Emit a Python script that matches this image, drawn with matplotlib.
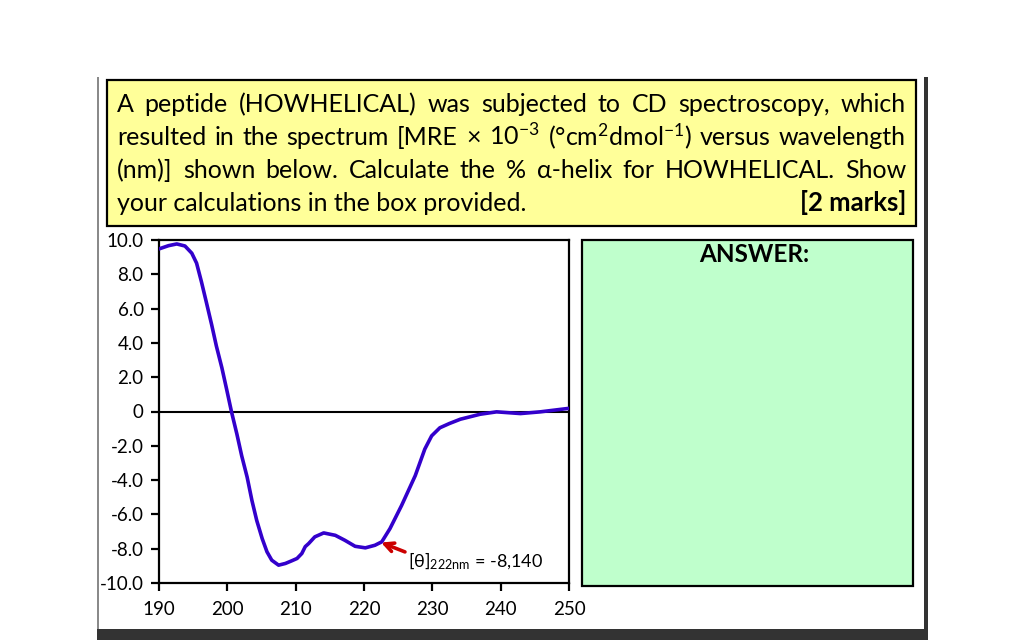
"""CD spectrum question slide: HOWHELICAL peptide, MRE vs wavelength."""
import matplotlib

matplotlib.use("Agg")
import matplotlib.pyplot as plt
from matplotlib.patches import Rectangle

W, H = 1024, 640
FONT = ["Lato", "DejaVu Sans"]

# ---- data ----
wavelength = [190.0, 191.4, 192.6, 193.8, 194.8, 195.5, 196.2, 196.9, 197.7, 198.4,
              199.2, 199.9, 200.6, 201.4, 202.1, 202.9, 203.6, 204.3, 205.1, 205.8,
              206.5, 207.5, 208.5, 209.4, 210.2, 210.9, 211.4, 211.9, 212.8, 214.1,
              215.8, 217.2, 218.7, 220.2, 221.6, 222.6, 223.8, 225.5, 227.5, 228.9,
              229.9, 231.1, 232.5, 234.1, 237.0, 239.4, 242.9, 245.8, 249.7, 250.0]
mre = [9.48, 9.67, 9.77, 9.65, 9.23, 8.65, 7.58, 6.42, 5.07, 3.81,
       2.55, 1.29, 0.0, -1.32, -2.58, -3.83, -5.19, -6.35, -7.41, -8.18,
       -8.67, -8.96, -8.86, -8.71, -8.57, -8.28, -7.88, -7.70, -7.31, -7.08,
       -7.22, -7.51, -7.86, -7.95, -7.80, -7.60, -6.83, -5.48, -3.74, -2.19,
       -1.42, -0.95, -0.70, -0.45, -0.16, -0.02, -0.12, -0.02, 0.17, 0.18]

x_ticks = [190, 200, 210, 220, 230, 240, 250]
y_ticks = [-10, -8, -6, -4, -2, 0, 2, 4, 6, 8, 10]
y_tick_labels = ["-10.0", "-8.0", "-6.0", "-4.0", "-2.0", "0",
                 "2.0", "4.0", "6.0", "8.0", "10.0"]

point_222 = (222.5, -7.64)
label_222 = "[θ]$_{\\mathregular{222nm}}$ = -8,140"

question_lines = [
    "A peptide (HOWHELICAL) was subjected to CD spectroscopy, which",
    "resulted in the spectrum [MRE × 10$^{\\mathregular{-3}}$ "
    "(°cm$^{\\mathregular{2}}$dmol$^{\\mathregular{-1}}$) versus wavelength",
    "(nm)] shown below. Calculate the % α-helix for HOWHELICAL. Show",
]
last_line = "your calculations in the box provided."
marks = "[2 marks]"
answer_title = "ANSWER:"

plt.rcParams["font.family"] = FONT
plt.rcParams["mathtext.fontset"] = "custom"
plt.rcParams["mathtext.rm"] = "Lato"
plt.rcParams["mathtext.it"] = "Lato:italic"
plt.rcParams["mathtext.bf"] = "Lato:bold"

fig = plt.figure(figsize=(W / 100, H / 100), dpi=100, facecolor="white")


def fx(px):
    return px / W


def fy(py):
    return 1 - py / H


def rect(x0, y0, x1, y1, **kw):
    fig.add_artist(Rectangle((fx(x0), fy(y1)), fx(x1) - fx(x0), fy(y0) - fy(y1),
                             transform=fig.transFigure, **kw))


# page frame
rect(97, 77, 99, 629, facecolor="#8a8a8a", edgecolor="none")
rect(924, 77, 928, 629, facecolor="#333333", edgecolor="none")
rect(97, 629, 928, 640, facecolor="#333333", edgecolor="none")

# question box
rect(107, 80, 916, 226, facecolor="#FFFF99", edgecolor="black", lw=1.6)
# answer box
rect(582, 240, 913, 586, facecolor="#BFFFCC", edgecolor="black", lw=1.6)

renderer = fig.canvas.get_renderer()
TEXT_SIZE = 18
LEFT, RIGHT = 117, 906


def justify(line, y):
    words = line.split(" ")
    arts = [fig.text(0, 0, w, fontsize=TEXT_SIZE, va="baseline") for w in words]
    widths = [a.get_window_extent(renderer).width for a in arts]
    gap = (RIGHT - LEFT - sum(widths)) / (len(words) - 1)
    x = LEFT
    for a, w in zip(arts, widths):
        a.set_position((fx(x), fy(y)))
        x += w + gap


for i, line in enumerate(question_lines):
    justify(line, 112 + 33 * i)
fig.text(fx(LEFT), fy(211), last_line, fontsize=TEXT_SIZE, va="baseline")
fig.text(fx(RIGHT), fy(211), marks, fontsize=TEXT_SIZE + 0.5, fontweight="bold",
         ha="right", va="baseline")

fig.text(fx(754), fy(254), answer_title, fontsize=17.5, fontweight="bold",
         ha="center", va="center")

# ---- chart ----
ax = fig.add_axes([fx(159), fy(583), fx(569) - fx(159), fy(240) - fy(583)])
ax.plot(wavelength, mre, color="#3300CC", lw=2.6, solid_joinstyle="round",
        solid_capstyle="round", zorder=3)
ax.axhline(0, color="black", lw=1.5, zorder=2)
ax.set_xlim(190, 250)
ax.set_ylim(-10, 10)
ax.set_xticks(x_ticks)
ax.set_yticks(y_ticks)
ax.set_yticklabels(y_tick_labels)
ax.tick_params(direction="out", length=6, width=1.6, labelsize=13.5, colors="black")
ax.tick_params(axis="x", pad=7)
ax.tick_params(axis="y", pad=5)
for s in ax.spines.values():
    s.set_linewidth(1.6)
ax.set_facecolor("white")

ax.annotate(label_222, xy=point_222, xytext=(226.4, -8.75),
            fontsize=13, ha="left", va="center",
            arrowprops=dict(arrowstyle="->", color="#CC0000", lw=2.6,
                            shrinkA=0, shrinkB=0, relpos=(0, 0.9),
                            mutation_scale=16))

fig.savefig("out.png", dpi=100, facecolor="white")
